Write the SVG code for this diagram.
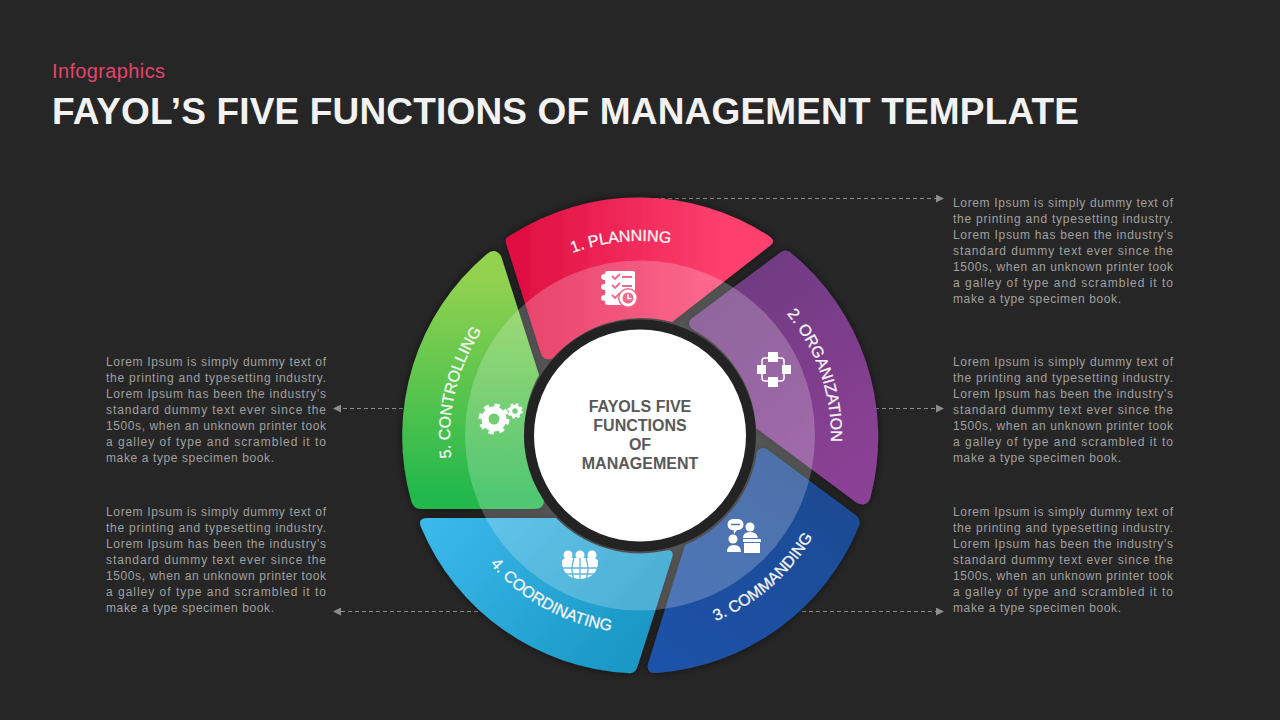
<svg xmlns="http://www.w3.org/2000/svg" width="1280" height="720" viewBox="0 0 1280 720">
<style>
.body{font:12px "Liberation Sans",Arial,sans-serif;fill:#a0a0a0}
.seg{font:16px "Liberation Sans",Arial,sans-serif;fill:#f4f4f4;stroke:#f4f4f4;stroke-width:.3;text-anchor:middle}
.ctr{font:bold 16px "Liberation Sans",Arial,sans-serif;fill:#595959;text-anchor:middle}
.dash{stroke:#8c8c8c;stroke-width:1;stroke-dasharray:4 3;fill:none;marker-end:url(#arrow)}
.ic{fill:#fff}
.arcp{fill:none}
</style>
<defs>
<marker id="arrow" viewBox="0 0 8 8" refX="7" refY="4" markerWidth="8" markerHeight="8" markerUnits="userSpaceOnUse" orient="auto"><path d="M0 0L8 4L0 8Z" fill="#8c8c8c"/></marker>
<filter id="sh" x="-15%" y="-15%" width="130%" height="130%"><feDropShadow dx="0" dy="0" stdDeviation="4" flood-color="#000" flood-opacity=".55"/></filter>
<linearGradient id="g1" x1="0" y1="0" x2="1" y2="0"><stop offset=".05" stop-color="#e00f42"/><stop offset=".8" stop-color="#fd3f6e"/></linearGradient>
<linearGradient id="g2" x1="0" y1="0" x2=".6" y2="1"><stop offset="0" stop-color="#6a3a7e"/><stop offset="1" stop-color="#8a4094"/></linearGradient>
<linearGradient id="g3" x1=".8" y1="0" x2=".2" y2="1"><stop offset="0" stop-color="#1a4a90"/><stop offset="1" stop-color="#1f52a8"/></linearGradient>
<linearGradient id="g4" x1="0" y1="0" x2="1" y2=".5"><stop offset="0" stop-color="#3cbaec"/><stop offset="1" stop-color="#1a98c6"/></linearGradient>
<linearGradient id="g5" x1="0" y1="0" x2="0" y2="1"><stop offset=".1" stop-color="#93d250"/><stop offset=".95" stop-color="#22b84c"/></linearGradient>
<path id="t1" class="arcp" d="M462.4 355.4A195 195 0 0 1 798.6 322.5"/>
<path id="t2" class="arcp" d="M676.4 248.500A191 191 0 0 1 784.1 561.3"/>
<path id="t3" class="arcp" d="M574.9 625.1A200 200 0 0 0 836.3 397.8"/>
<path id="t4" class="arcp" d="M443 439.4A197 197 0 0 0 741.5 604.9"/>
<path id="t5" class="arcp" d="M509.3 573.8A190 190 0 0 1 586 253.8"/>
</defs>
<rect width="1280" height="720" fill="#262626"/>
<text x="52" y="78" font-family="'Liberation Sans',Arial,sans-serif" font-size="20" fill="#e4436c" textLength="113">Infographics</text>
<text x="52" y="124" font-family="'Liberation Sans',Arial,sans-serif" font-size="37" font-weight="bold" fill="#f2f2f2" textLength="1027">FAYOL’S FIVE FUNCTIONS OF MANAGEMENT TEMPLATE</text>

<g id="connectors">
<path class="dash" d="M640 198.500H943"/>
<path class="dash" d="M875 408.500H943"/>
<path class="dash" d="M795 611.500H943"/>
<path class="dash" d="M410 408.500H334"/>
<path class="dash" d="M485 611.500H334"/>
</g>

<g id="shapes" filter="url(#sh)">
<path id="s1" fill="url(#g1)" d="M511 235A238 238 0 0 1 769 236Q776 241 771 245L672 322A118 118 0 0 0 553 358Q545 362 541 354L506 243Q504 238 511 235Z"/>
</g>
<g filter="url(#sh)"><path id="s2" fill="url(#g2)" d="M781 252Q785 249 790 252A238 238 0 0 1 871 495Q869 508 857 503L756 428A118 118 0 0 0 697 332Q685 326 691 319Z"/></g>
<g filter="url(#sh)"><path id="s3" fill="url(#g3)" d="M768 450L853 513Q862 519 859 526A238 238 0 0 1 657 673Q646 674 648 664L685 545A118 118 0 0 0 757 452Q762 445 768 450Z"/></g>
<g filter="url(#sh)"><path id="s4" fill="url(#g4)" d="M428 518H556A118 118 0 0 0 664 551Q675 548 672 558L638 665Q635 675 628 673A238 238 0 0 1 421 527Q417 518 428 518Z"/></g>
<g filter="url(#sh)"><path id="s5" fill="url(#g5)" d="M487 254Q495 247 501 256L539 375A118 118 0 0 0 544 498Q545 509 534 509H421Q413 509 411 500A238 238 0 0 1 487 254Z"/></g>

<circle id="glass" cx="640" cy="435.500" r="175" fill="#fff" fill-opacity=".22"/>
<circle id="hub-ring" cx="640" cy="435.500" r="116" fill="#232323"/>

<g id="node-planning">
<text class="seg"><textPath href="#t1" startOffset="50%">1. PLANNING</textPath></text>
<g>
<rect class="ic" x="605" y="271" width="30" height="34" rx="2"/>
<ellipse class="ic" cx="605" cy="277" rx="4" ry="3"/><ellipse class="ic" cx="605" cy="287" rx="4" ry="3"/><ellipse class="ic" cx="605" cy="298" rx="4" ry="3"/>
<path d="M612 276l3 3 5-5M612 285l3 3 5-5M612 295l3 3 5-5M622 277h10M622 286h10" fill="none" stroke="#ee6a8a" stroke-width="1.800"/>
<circle cx="628" cy="298" r="10" fill="#ee6a8a"/><circle class="ic" cx="628" cy="298" r="8.500"/><circle cx="628" cy="298" r="5.500" fill="#ee6a8a"/><path d="M628 294v4.500h3.500" stroke="#fff" stroke-width="1.500" fill="none"/>
</g>
</g>

<g id="node-organization">
<text class="seg"><textPath href="#t2" startOffset="50%">2. ORGANIZATION</textPath></text>
<g>
<rect x="762" y="358" width="22" height="23" rx="3" fill="none" stroke="#fff" stroke-width="1.500"/>
<rect class="ic" x="768" y="352" width="10" height="10"/><rect class="ic" x="768" y="377" width="10" height="10"/><rect class="ic" x="757" y="365" width="9" height="9"/><rect class="ic" x="782" y="365" width="9" height="9"/>
</g>
</g>

<g id="node-commanding">
<text class="seg"><textPath href="#t3" startOffset="50%">3. COMMANDING</textPath></text>
<g>
<path class="ic" d="M733 519h5a5.500 5.500 0 0 1 0 11h-1l-3 4-.5-4h-.5a5.500 5.500 0 0 1 0-11Z"/>
<path d="M731 524.500h9" stroke="#4d76ad" stroke-width="1.500"/>
<circle class="ic" cx="750" cy="527" r="4.500"/>
<path class="ic" d="M743 538q0-6 7-6t8 6ZM743 539h18v3h-18ZM744 543h16v10h-16Z"/>
<circle class="ic" cx="733" cy="539" r="4.500"/>
<path class="ic" d="M727 552q0-7 7-7t7 7Z"/>
</g>
</g>

<g id="node-coordinating">
<text class="seg"><textPath href="#t4" startOffset="50%">4. COORDINATING</textPath></text>
<g>
<circle class="ic" cx="568" cy="555" r="4.500"/><circle class="ic" cx="580" cy="555" r="4.500"/><circle class="ic" cx="592" cy="555" r="4.500"/>
<path class="ic" d="M562 562q0-4 6-4h24q6 0 6 4v2q-2 14-18 15q-16-1-18-15Z"/>
<path d="M562 568h36M566 574h28M574 558q-4 11 0 22M586 558q4 11 0 22M580 558v22" stroke="#5bb7dc" stroke-width="1.300" fill="none"/>
</g>
</g>

<g id="node-controlling">
<text class="seg"><textPath href="#t5" startOffset="50%">5. CONTROLLING</textPath></text>
<g fill="none" stroke="#fff">
<circle cx="494" cy="419" r="9" stroke-width="7"/>
<circle cx="494" cy="419" r="13.500" stroke-width="4" stroke-dasharray="5.300 5.300"/>
<circle cx="515" cy="411" r="4.500" stroke-width="3.500"/>
<circle cx="515" cy="411" r="6.500" stroke-width="2.500" stroke-dasharray="2.550 2.550"/>
</g>
</g>

<g id="node-center">
<circle cx="640" cy="435.500" r="106" fill="#fff"/>
<text class="ctr" x="640" y="412">FAYOLS FIVE</text>
<text class="ctr" x="640" y="431">FUNCTIONS</text>
<text class="ctr" x="640" y="450">OF</text>
<text class="ctr" x="640" y="469">MANAGEMENT</text>
</g>

<g id="text-right-1" class="body">
<text x="953" y="207" textLength="220">Lorem Ipsum is simply dummy text of</text>
<text x="953" y="223" textLength="220">the printing and typesetting industry.</text>
<text x="953" y="239" textLength="220">Lorem Ipsum has been the industry's</text>
<text x="953" y="255" textLength="220">standard dummy text ever since the</text>
<text x="953" y="271" textLength="220">1500s, when an unknown printer took</text>
<text x="953" y="287" textLength="220">a galley of type and scrambled it to</text>
<text x="953" y="303" textLength="168">make a type specimen book.</text>
</g>
<g id="text-right-2" class="body">
<text x="953" y="366" textLength="220">Lorem Ipsum is simply dummy text of</text>
<text x="953" y="382" textLength="220">the printing and typesetting industry.</text>
<text x="953" y="398" textLength="220">Lorem Ipsum has been the industry's</text>
<text x="953" y="414" textLength="220">standard dummy text ever since the</text>
<text x="953" y="430" textLength="220">1500s, when an unknown printer took</text>
<text x="953" y="446" textLength="220">a galley of type and scrambled it to</text>
<text x="953" y="462" textLength="168">make a type specimen book.</text>
</g>
<g id="text-right-3" class="body">
<text x="953" y="516" textLength="220">Lorem Ipsum is simply dummy text of</text>
<text x="953" y="532" textLength="220">the printing and typesetting industry.</text>
<text x="953" y="548" textLength="220">Lorem Ipsum has been the industry's</text>
<text x="953" y="564" textLength="220">standard dummy text ever since the</text>
<text x="953" y="580" textLength="220">1500s, when an unknown printer took</text>
<text x="953" y="596" textLength="220">a galley of type and scrambled it to</text>
<text x="953" y="612" textLength="168">make a type specimen book.</text>
</g>
<g id="text-left-1" class="body">
<text x="106" y="366" textLength="220">Lorem Ipsum is simply dummy text of</text>
<text x="106" y="382" textLength="220">the printing and typesetting industry.</text>
<text x="106" y="398" textLength="220">Lorem Ipsum has been the industry's</text>
<text x="106" y="414" textLength="220">standard dummy text ever since the</text>
<text x="106" y="430" textLength="220">1500s, when an unknown printer took</text>
<text x="106" y="446" textLength="220">a galley of type and scrambled it to</text>
<text x="106" y="462" textLength="168">make a type specimen book.</text>
</g>
<g id="text-left-2" class="body">
<text x="106" y="516" textLength="220">Lorem Ipsum is simply dummy text of</text>
<text x="106" y="532" textLength="220">the printing and typesetting industry.</text>
<text x="106" y="548" textLength="220">Lorem Ipsum has been the industry's</text>
<text x="106" y="564" textLength="220">standard dummy text ever since the</text>
<text x="106" y="580" textLength="220">1500s, when an unknown printer took</text>
<text x="106" y="596" textLength="220">a galley of type and scrambled it to</text>
<text x="106" y="612" textLength="168">make a type specimen book.</text>
</g>
</svg>
